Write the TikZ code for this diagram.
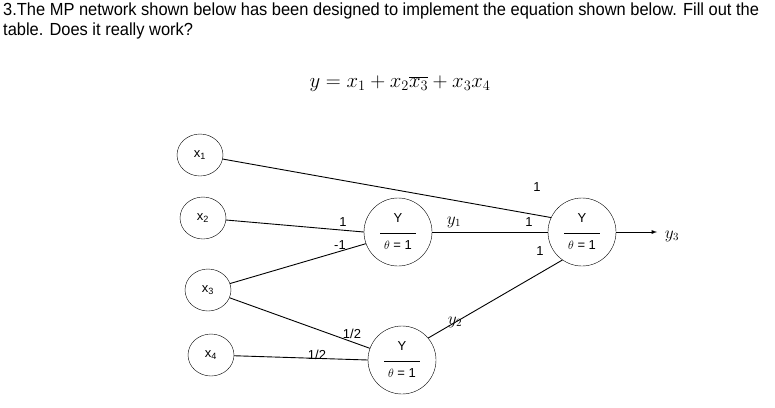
\documentclass[tikz,border=0pt]{standalone}
\usepackage{fontspec}
\setmainfont{Liberation Sans}
\usetikzlibrary{shapes.geometric}
\begin{document}
\begin{tikzpicture}[x=1pt,y=-1pt,
 inp/.style={draw,ellipse,minimum width=46pt,minimum height=42pt,inner sep=0pt,font=\fontsize{13}{15}\selectfont},
 neu/.style={draw,circle,minimum size=68pt,inner sep=0pt,font=\fontsize{13}{15}\selectfont},
 wt/.style={font=\fontsize{13}{15}\selectfont},
 yl/.style={font=\fontsize{16}{18}\selectfont},
 conn/.style={line width=0.9pt}]
\useasboundingbox (0,0) rectangle (775,407);
\node[anchor=north west,font=\fontsize{17.5}{20}\selectfont,align=left,inner sep=0pt,xscale=0.94] (title) at (3,3) {3.The MP network shown below has been designed to implement the equation shown below. Fill out the\\table. Does it really work?};
\node[font=\fontsize{20}{22}\selectfont] (eq) at (400,84) {$y = x_1 + x_2\overline{x_3} + x_3x_4$};
\node[inp] (x1) at (200,155) {x\textsubscript{1}};
\node[inp] (x2) at (203,218) {x\textsubscript{2}};
\node[inp] (x3) at (208,290) {x\textsubscript{3}};
\node[inp] (x4) at (211,355) {x\textsubscript{4}};
\node[neu,align=center] (n1) at (398,232) {Y\\[-4pt]\rule{36pt}{0.5pt}\\[1pt]$\theta$ = 1};
\node[neu,align=center] (n3) at (402,360) {Y\\[-4pt]\rule{36pt}{0.5pt}\\[1pt]$\theta$ = 1};
\node[neu,align=center] (n2) at (582,232) {Y\\[-4pt]\rule{36pt}{0.5pt}\\[1pt]$\theta$ = 1};
\coordinate (out) at (657,232);
\draw[conn] (x1) -- (n2.155);
\draw[conn] (x2) -- (n1.180);
\draw[conn] (x3) -- (n1.200);
\draw[conn] (x3) -- (n3.160);
\draw[conn] (x4) -- (n3.180);
\draw[conn] (n1) -- (n2);
\draw[conn] (n3.40) -- (n2.235);
\draw[conn,-latex] (n2) -- (out);
\node[yl] (y3) at (672,236) {$y_3$};
\node[yl] (y1) at (454,222) {$y_1$};
\node[yl] (y2) at (455,322) {$y_2$};
\node[wt] (w1) at (343,222) {1};
\node[wt] (w2) at (340,245) {-1};
\node[wt] (w3) at (352,334) {1/2};
\node[wt] (w4) at (317,355) {1/2};
\node[wt] (w5) at (537,187) {1};
\node[wt] (w6) at (529,222) {1};
\node[wt] (w7) at (540,251) {1};
\end{tikzpicture}
\end{document}
